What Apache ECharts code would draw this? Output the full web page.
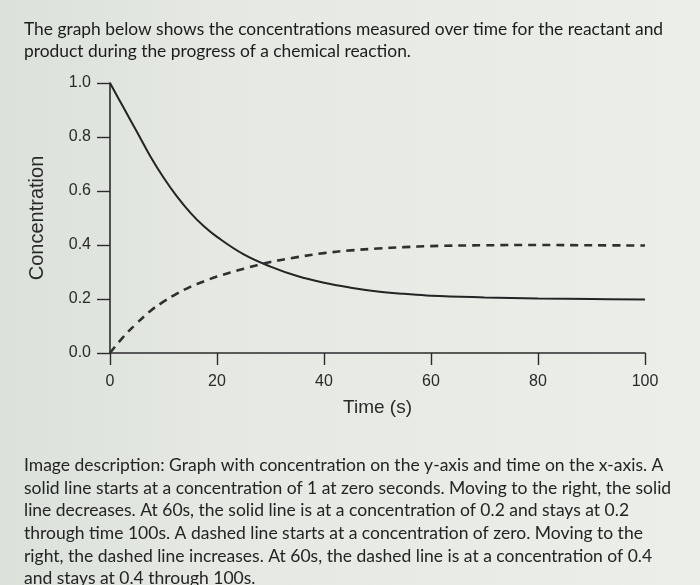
<!DOCTYPE html>
<html>
<head>
<meta charset="utf-8">
<script src="https://cdn.jsdelivr.net/npm/echarts@6/dist/echarts.min.js"></script>
<style>
  html, body { margin: 0; padding: 0; background: #e7e9e5; }
  #chart { width: 700px; height: 585px; }
</style>
</head>
<body>
<div id="chart"></div>
<script>
// Data
const times    = [0, 2.5, 5, 7.5, 10, 12.5, 15, 17.5, 20, 25, 30, 35, 40, 45, 50, 55, 60, 70, 80, 90, 100];
const reactant = [1.00, 0.91, 0.82, 0.73, 0.65, 0.58, 0.52, 0.47, 0.43, 0.365, 0.32, 0.285, 0.26, 0.242, 0.228, 0.219, 0.212, 0.206, 0.202, 0.200, 0.198];
const product  = [0, 0.06, 0.11, 0.155, 0.19, 0.22, 0.245, 0.265, 0.283, 0.312, 0.337, 0.355, 0.37, 0.38, 0.387, 0.392, 0.396, 0.399, 0.400, 0.399, 0.398];
const yTicks = ['0.0', '0.2', '0.4', '0.6', '0.8', '1.0'];
const xTicks = ['0', '20', '40', '60', '80', '100'];

const introText = 'The graph below shows the concentrations measured over time for the reactant and\nproduct during the progress of a chemical reaction.';
const descText = 'Image description: Graph with concentration on the y-axis and time on the x-axis. A\n' +
  'solid line starts at a concentration of 1 at zero seconds. Moving to the right, the solid\n' +
  'line decreases. At 60s, the solid line is at a concentration of 0.2 and stays at 0.2\n' +
  'through time 100s. A dashed line starts at a concentration of zero. Moving to the\n' +
  'right, the dashed line increases. At 60s, the dashed line is at a concentration of 0.4\n' +
  'and stays at 0.4 through 100s.';

const chart = echarts.init(document.getElementById('chart'), null, { renderer: 'canvas' });
const axisColor = '#2b2b2b';
const option = {
  backgroundColor: {
    type: 'linear', x: 0, y: 0, x2: 1, y2: 0,
    colorStops: [
      { offset: 0, color: '#dce1dc' },
      { offset: 0.3, color: '#e5e8e3' },
      { offset: 1, color: '#eceeea' }
    ]
  },
  animation: false,
  grid: { left: 110, right: 55, top: 83, bottom: 232, containLabel: false },
  xAxis: {
    type: 'value', min: 0, max: 100, interval: 20,
    offset: 2,
    name: 'Time (s)', nameLocation: 'middle', nameGap: 43,
    nameTextStyle: { fontFamily: 'Liberation Sans', fontSize: 19, color: '#2a2a2a' },
    axisLine: { show: true, lineStyle: { color: axisColor, width: 1.6 } },
    axisTick: { show: true, length: 12, lineStyle: { color: axisColor, width: 1.4 } },
    axisLabel: {
      fontFamily: 'Liberation Sans', fontSize: 16, color: '#2a2a2a', margin: 19,
      formatter: v => xTicks[Math.round(v / 20)]
    },
    splitLine: { show: false }
  },
  yAxis: {
    type: 'value', min: 0, max: 1, interval: 0.2,
    name: 'Concentration', nameLocation: 'middle', nameGap: 63, nameRotate: 90,
    nameTextStyle: { fontFamily: 'Liberation Sans', fontSize: 20, color: '#2a2a2a' },
    axisLine: { show: true, lineStyle: { color: axisColor, width: 1.6 } },
    axisTick: { show: true, length: 13, lineStyle: { color: axisColor, width: 1.4 } },
    axisLabel: {
      fontFamily: 'Liberation Sans', fontSize: 16, color: '#2a2a2a', margin: 19,
      formatter: v => yTicks[Math.round(v / 0.2)]
    },
    splitLine: { show: false }
  },
  series: [
    {
      name: 'Reactant', type: 'line', smooth: 0.4, symbol: 'none',
      data: times.map((t, i) => [t, reactant[i]]),
      lineStyle: { color: '#242424', width: 2 }
    },
    {
      name: 'Product', type: 'line', smooth: 0.4, symbol: 'none',
      data: times.map((t, i) => [t, product[i]]),
      lineStyle: { color: '#303030', width: 2.6, type: [8, 6] }
    }
  ],
  graphic: [
    {
      type: 'text', left: 24, top: 18,
      style: { text: introText, font: '17.4px Lato', fill: '#1c1c1c', lineHeight: 22 }
    },
    {
      type: 'text', left: 24, top: 454,
      style: { text: descText, font: '17.5px Lato', fill: '#242424', lineHeight: 22.7 }
    }
  ]
};
chart.setOption(option);
</script>
</body>
</html>
